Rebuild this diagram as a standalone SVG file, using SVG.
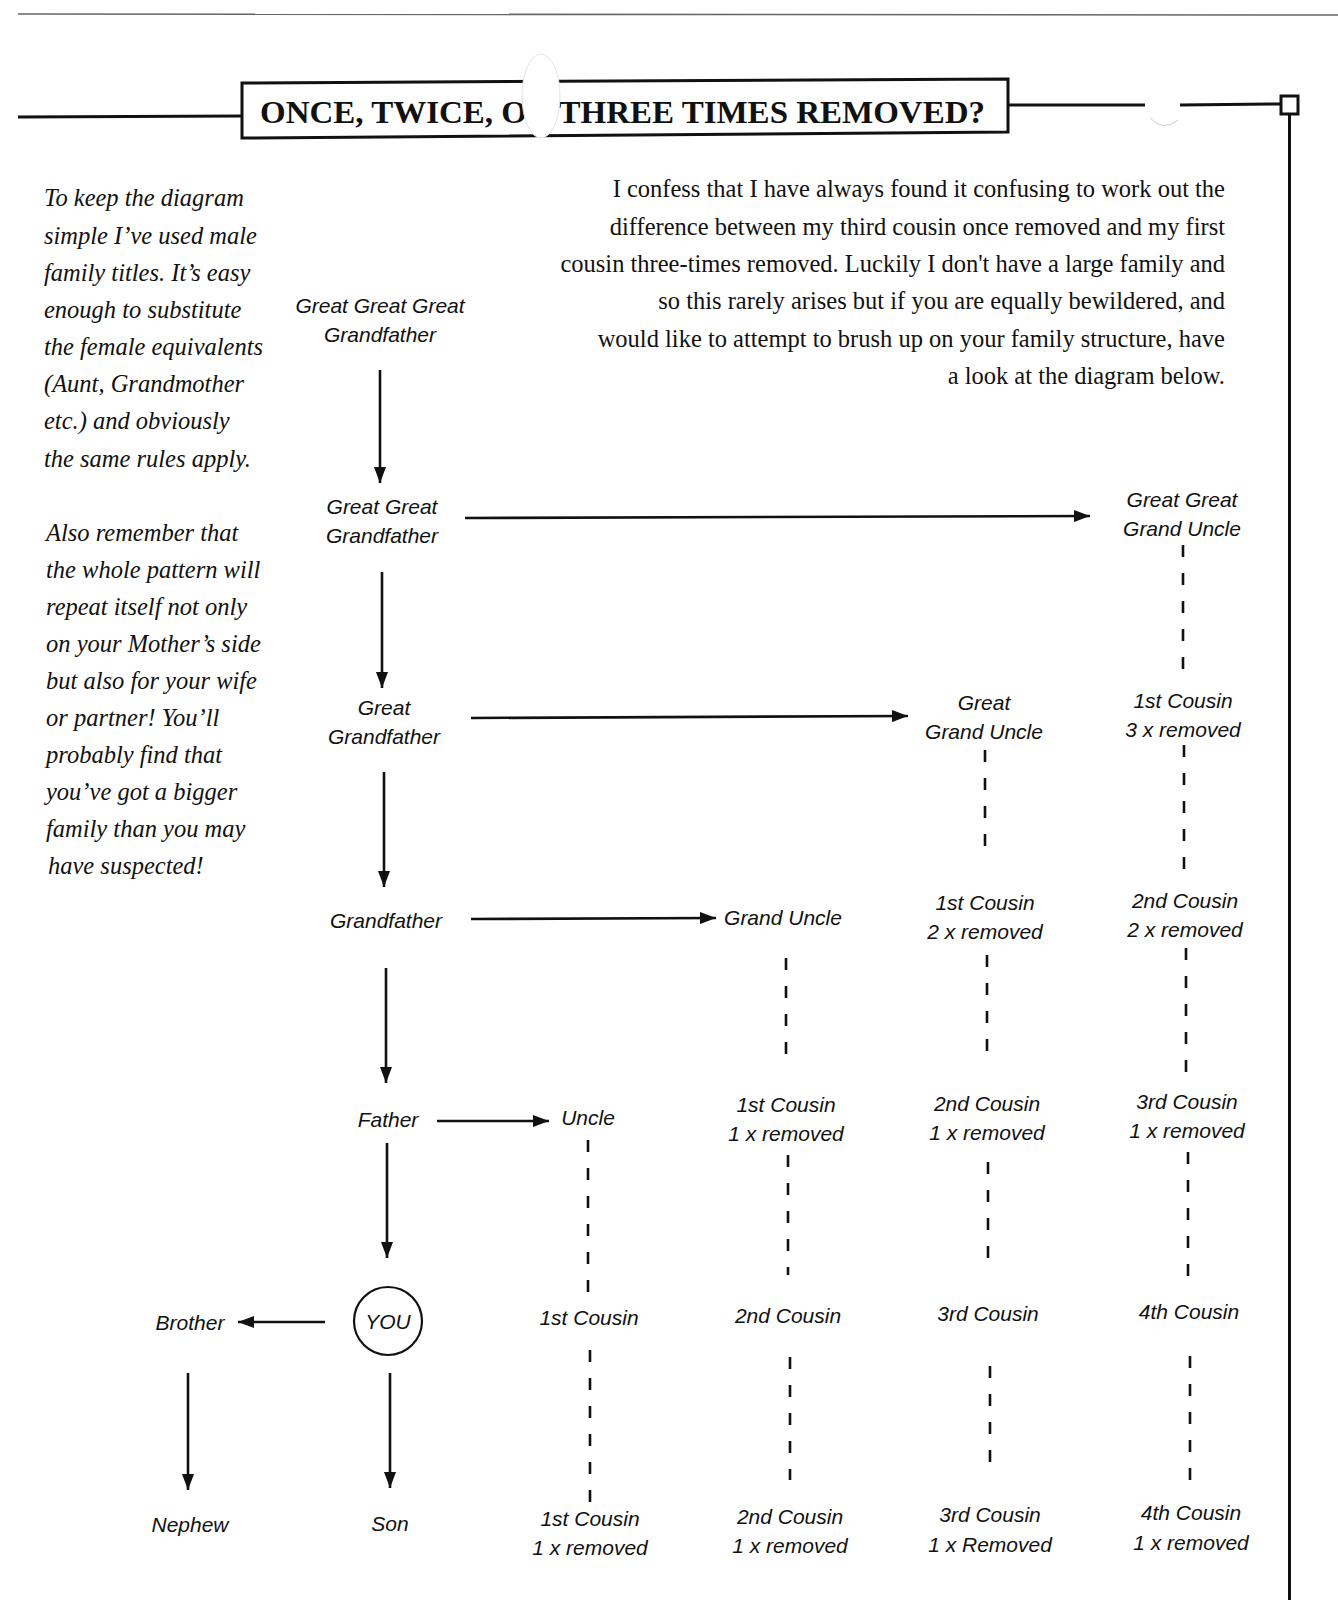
<svg xmlns="http://www.w3.org/2000/svg" width="1338" height="1600" viewBox="0 0 1338 1600">
<style>
.h{font-family:"Liberation Sans Narrow","Liberation Sans","DejaVu Sans",sans-serif;font-style:italic;font-size:21px;text-anchor:middle;fill:#111}
.p{font-family:"Liberation Serif","DejaVu Serif",serif;font-size:24.5px;fill:#111}
.pi{font-family:"Liberation Serif","DejaVu Serif",serif;font-style:italic;font-size:24.5px;fill:#111}
.arr{stroke:#111;stroke-width:2.6;fill:none;marker-end:url(#ah)}
.dash{stroke:#111;stroke-width:2.6;fill:none;stroke-dasharray:12 16}
.frame{stroke:#111;stroke-width:3;fill:none}
</style>
<defs>
<marker id="ah" viewBox="0 0 16 12" refX="16" refY="6" markerWidth="16" markerHeight="12" markerUnits="userSpaceOnUse" orient="auto">
<path d="M0,0 L16,6 L0,12 z" fill="#111"/>
</marker>
</defs>
<rect width="1338" height="1600" fill="#fff"/>

<g id="frame">
<line x1="18" y1="14" x2="1338" y2="15" stroke="#666" stroke-width="1.6"/>
<line x1="18" y1="117" x2="242" y2="116" class="frame"/>
<line x1="1008" y1="105" x2="1145" y2="105" class="frame"/>
<line x1="1180" y1="105" x2="1281" y2="104" class="frame"/>
<rect x="1281" y="96" width="17" height="18" class="frame" fill="#fff"/>
<line x1="1289.5" y1="114" x2="1289.5" y2="1600" class="frame"/>
<path d="M1150,118 Q1163,132 1178,120" stroke="#ccc" stroke-width="1" fill="none"/>
</g>

<g id="title">
<polygon points="242,83 1008,79 1008,132 242,138" fill="#fff" stroke="#111" stroke-width="3"/>
<text x="260" y="123" font-family="Liberation Serif,serif" font-weight="bold" font-size="31" textLength="725" lengthAdjust="spacingAndGlyphs" fill="#111">ONCE, TWICE, OR THREE TIMES REMOVED?</text>
<ellipse cx="541" cy="96" rx="19" ry="42" fill="#fff" stroke="#e4e4e4" stroke-width="1"/>
</g>

<g id="intro">
<text class="p" text-anchor="end" x="1225" y="197">I confess that I have always found it confusing to work out the</text>
<text class="p" text-anchor="end" x="1225" y="235">difference between my third cousin once removed and my first</text>
<text class="p" text-anchor="end" x="1225" y="272">cousin three-times removed. Luckily I don't have a large family and</text>
<text class="p" text-anchor="end" x="1225" y="309">so this rarely arises but if you are equally bewildered, and</text>
<text class="p" text-anchor="end" x="1225" y="347">would like to attempt to brush up on your family structure, have</text>
<text class="p" text-anchor="end" x="1225" y="384">a look at the diagram below.</text>
</g>

<g id="note">
<text class="pi" x="44" y="206">To keep the diagram</text>
<text class="pi" x="44" y="244">simple I’ve used male</text>
<text class="pi" x="44" y="281">family titles. It’s easy</text>
<text class="pi" x="44" y="318">enough to substitute</text>
<text class="pi" x="44" y="355">the female equivalents</text>
<text class="pi" x="44" y="392">(Aunt, Grandmother</text>
<text class="pi" x="44" y="429">etc.) and obviously</text>
<text class="pi" x="44" y="467">the same rules apply.</text>
<text class="pi" x="46" y="541">Also remember that</text>
<text class="pi" x="46" y="578">the whole pattern will</text>
<text class="pi" x="46" y="615">repeat itself not only</text>
<text class="pi" x="46" y="652">on your Mother’s side</text>
<text class="pi" x="46" y="689">but also for your wife</text>
<text class="pi" x="46" y="726">or partner! You’ll</text>
<text class="pi" x="46" y="763">probably find that</text>
<text class="pi" x="46" y="800">you’ve got a bigger</text>
<text class="pi" x="46" y="837">family than you may</text>
<text class="pi" x="48" y="874">have suspected!</text>
</g>

<g id="connectors">
<line class="arr" x1="380" y1="370" x2="380" y2="483"/>
<line class="arr" x1="382" y1="572" x2="382" y2="688"/>
<line class="arr" x1="384" y1="772" x2="384" y2="887"/>
<line class="arr" x1="386" y1="968" x2="386" y2="1083"/>
<line class="arr" x1="387" y1="1143" x2="387" y2="1258"/>
<line class="arr" x1="390" y1="1373" x2="390" y2="1488"/>
<line class="arr" x1="188" y1="1373" x2="188" y2="1490"/>
<line class="arr" x1="465" y1="518" x2="1090" y2="516"/>
<line class="arr" x1="471" y1="718" x2="908" y2="716"/>
<line class="arr" x1="471" y1="919" x2="716" y2="918"/>
<line class="arr" x1="437" y1="1121" x2="549" y2="1121"/>
<line class="arr" x1="325" y1="1322" x2="238" y2="1322"/>
<line class="dash" x1="1183" y1="545" x2="1183" y2="677"/>
<line class="dash" x1="1184" y1="745" x2="1184" y2="877"/>
<line class="dash" x1="1186" y1="948" x2="1186" y2="1080"/>
<line class="dash" x1="1188" y1="1152" x2="1188" y2="1284"/>
<line class="dash" x1="1190" y1="1356" x2="1190" y2="1488"/>
<line class="dash" x1="985" y1="750" x2="985" y2="860"/>
<line class="dash" x1="987" y1="955" x2="987" y2="1065"/>
<line class="dash" x1="988" y1="1162" x2="988" y2="1272"/>
<line class="dash" x1="990" y1="1366" x2="990" y2="1476"/>
<line class="dash" x1="786" y1="958" x2="786" y2="1068"/>
<line class="dash" x1="788" y1="1155" x2="788" y2="1275"/>
<line class="dash" x1="790" y1="1357" x2="790" y2="1480"/>
<line class="dash" x1="588" y1="1140" x2="588" y2="1300"/>
<line class="dash" x1="590" y1="1350" x2="590" y2="1502"/>
</g>

<g id="n-gggf"><text class="h" x="380" y="313">Great Great Great</text><text class="h" x="380" y="342">Grandfather</text></g>
<g id="n-ggf"><text class="h" x="382" y="514">Great Great</text><text class="h" x="382" y="543">Grandfather</text></g>
<g id="n-gf1"><text class="h" x="384" y="715">Great</text><text class="h" x="384" y="744">Grandfather</text></g>
<g id="n-gf"><text class="h" x="386" y="928">Grandfather</text></g>
<g id="n-father"><text class="h" x="388" y="1127">Father</text></g>
<g id="n-you"><circle cx="388" cy="1321" r="34" fill="none" stroke="#111" stroke-width="2.2"/><text class="h" x="388" y="1329">YOU</text></g>
<g id="n-son"><text class="h" x="390" y="1531">Son</text></g>
<g id="n-brother"><text class="h" x="190" y="1330">Brother</text></g>
<g id="n-nephew"><text class="h" x="190" y="1532">Nephew</text></g>

<g id="n-gggu"><text class="h" x="1182" y="507">Great Great</text><text class="h" x="1182" y="536">Grand Uncle</text></g>
<g id="n-c1r3"><text class="h" x="1183" y="708">1st Cousin</text><text class="h" x="1183" y="737">3 x removed</text></g>
<g id="n-c2r2"><text class="h" x="1185" y="908">2nd Cousin</text><text class="h" x="1185" y="937">2 x removed</text></g>
<g id="n-c3r1"><text class="h" x="1187" y="1109">3rd Cousin</text><text class="h" x="1187" y="1138">1 x removed</text></g>
<g id="n-c4"><text class="h" x="1189" y="1319">4th Cousin</text></g>
<g id="n-c4r1"><text class="h" x="1191" y="1520">4th Cousin</text><text class="h" x="1191" y="1550">1 x removed</text></g>

<g id="n-ggu"><text class="h" x="984" y="710">Great</text><text class="h" x="984" y="739">Grand Uncle</text></g>
<g id="n-c1r2"><text class="h" x="985" y="910">1st Cousin</text><text class="h" x="985" y="939">2 x removed</text></g>
<g id="n-c2r1"><text class="h" x="987" y="1111">2nd Cousin</text><text class="h" x="987" y="1140">1 x removed</text></g>
<g id="n-c3"><text class="h" x="988" y="1321">3rd Cousin</text></g>
<g id="n-c3r1b"><text class="h" x="990" y="1522">3rd Cousin</text><text class="h" x="990" y="1552">1 x Removed</text></g>

<g id="n-gu"><text class="h" x="783" y="925">Grand Uncle</text></g>
<g id="n-c1r1"><text class="h" x="786" y="1112">1st Cousin</text><text class="h" x="786" y="1141">1 x removed</text></g>
<g id="n-c2"><text class="h" x="788" y="1323">2nd Cousin</text></g>
<g id="n-c2r1b"><text class="h" x="790" y="1524">2nd Cousin</text><text class="h" x="790" y="1553">1 x removed</text></g>

<g id="n-uncle"><text class="h" x="588" y="1125">Uncle</text></g>
<g id="n-c1"><text class="h" x="589" y="1325">1st Cousin</text></g>
<g id="n-c1r1b"><text class="h" x="590" y="1526">1st Cousin</text><text class="h" x="590" y="1555">1 x removed</text></g>
</svg>
